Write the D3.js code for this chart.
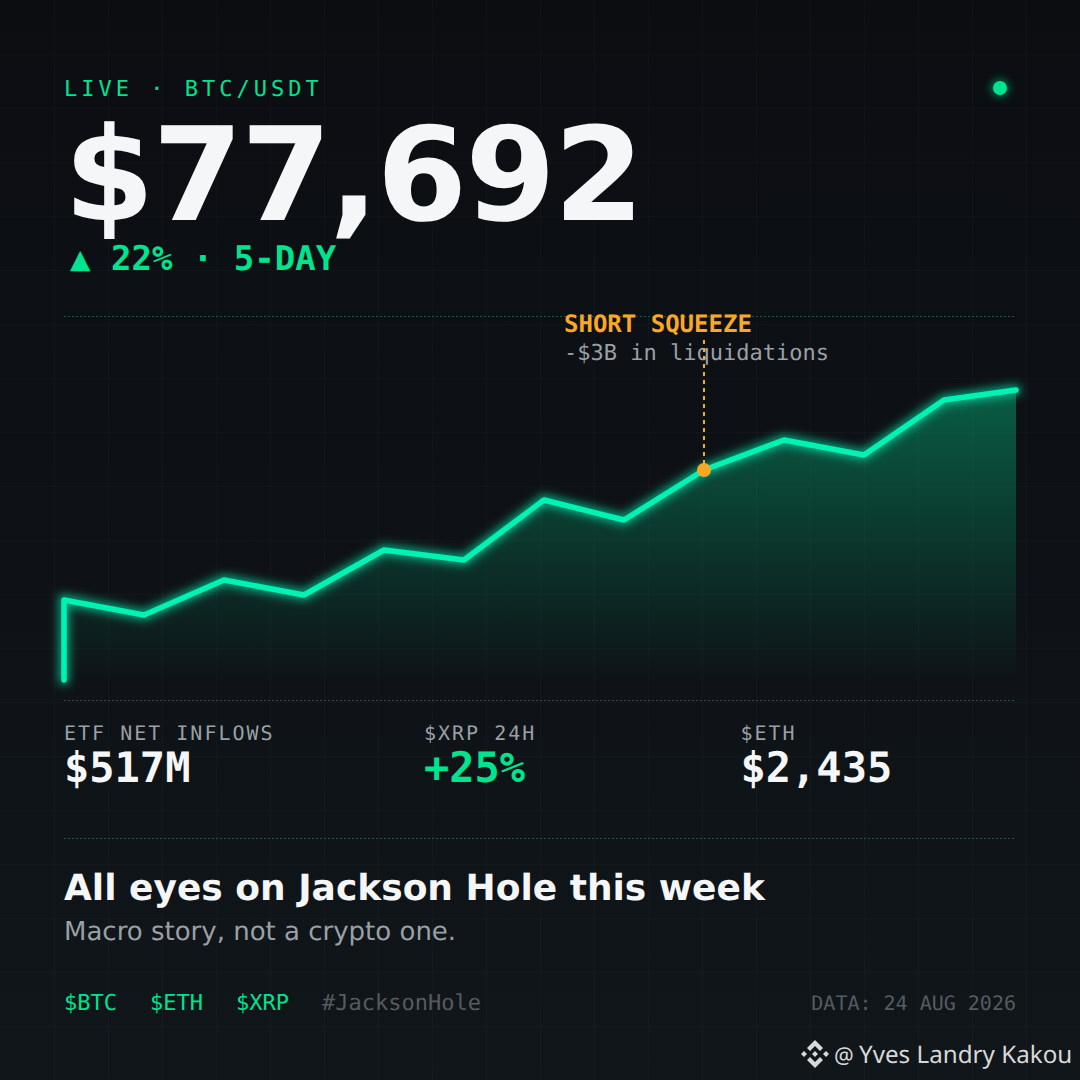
<!DOCTYPE html>
<html>
<head>
<meta charset="utf-8">
<script src="https://d3js.org/d3.v7.min.js"></script>
<style>
html,body{margin:0;padding:0;background:#0a0c10;}
svg{display:block;}
text{text-rendering:geometricPrecision;}
</style>
</head>
<body>
<svg width="1080" height="1080"></svg>
<script>
// chart values
var chartX = [0, 0, 80, 160, 240, 320, 400, 480, 560, 640, 720, 800, 880, 952];
var chartY = [20, 100, 85, 120, 105, 150, 140, 200, 180, 230, 260, 245, 300, 310];
var markerIndex = 9;

var stats = ["ETF NET INFLOWS", "$XRP 24H", "$ETH"];
var statValues = ["$517M", "+25%", "$2,435"];
var tags = ["$BTC", "$ETH", "$XRP", "#JacksonHole"];

function main(){
    var svg = d3.select("svg"),
        defs = svg.append("defs");

    var mono = "'DejaVu Sans Mono', monospace",
        sans = "'DejaVu Sans', sans-serif",
        green = "#00e38f",
        line = "#00f2b4",
        orange = "#f9a825";

    var bg = defs.append("linearGradient").attr("id", "bg").attr("x1", 0).attr("y1", 0).attr("x2", 0).attr("y2", 1);
    bg.append("stop").attr("offset", "0%").attr("stop-color", "#0b0d11");
    bg.append("stop").attr("offset", "100%").attr("stop-color", "#10161a");

    var fade = defs.append("linearGradient").attr("id", "fade").attr("x1", 0).attr("y1", 0).attr("x2", 0).attr("y2", 1);
    fade.append("stop").attr("offset", "0%").attr("stop-color", "#00e69a").attr("stop-opacity", 0.36);
    fade.append("stop").attr("offset", "100%").attr("stop-color", "#00e69a").attr("stop-opacity", 0);

    var glow = defs.append("filter").attr("id", "glow")
        .attr("filterUnits", "userSpaceOnUse")
        .attr("x", 0).attr("y", 300).attr("width", 1080).attr("height", 420);
    glow.append("feGaussianBlur").attr("stdDeviation", 5);

    var dotGlow = defs.append("filter").attr("id", "dotGlow").attr("x", "-100%").attr("y", "-100%").attr("width", "300%").attr("height", "300%");
    dotGlow.append("feGaussianBlur").attr("stdDeviation", 4);

    svg.append("rect").attr("width", 1080).attr("height", 1080).attr("fill", "url(#bg)");

    // faint background grid
    var grid = svg.append("g").attr("stroke", "#ffffff").attr("stroke-opacity", 0.022).attr("stroke-width", 1);
    d3.range(54, 1080, 54).forEach(function(p){
        grid.append("line").attr("x1", p + .5).attr("x2", p + .5).attr("y1", 0).attr("y2", 1080);
        grid.append("line").attr("y1", p + .5).attr("y2", p + .5).attr("x1", 0).attr("x2", 1080);
    });

    function txt(x, y, s, size, fill, family, weight, spacing){
        return svg.append("text")
            .attr("x", x).attr("y", y)
            .attr("font-family", family)
            .attr("font-size", size)
            .attr("font-weight", weight || "normal")
            .attr("letter-spacing", spacing || 0)
            .attr("fill", fill)
            .text(s);
    }

    // header
    txt(64, 96, "LIVE · BTC/USDT", 22, green, mono, "normal", 4);
    txt(64, 220, "$77,692", 130, "#f5f6f8", sans, "bold", -2);
    txt(70, 270, "▲ 22% · 5-DAY", 34, green, mono, "bold");

    svg.append("circle").attr("cx", 1000).attr("cy", 88).attr("r", 9).attr("fill", green).attr("opacity", 0.5).attr("filter", "url(#dotGlow)");
    svg.append("circle").attr("cx", 1000).attr("cy", 88).attr("r", 7).attr("fill", green);

    // dividers
    [316.5, 700.5, 838.5].forEach(function(y){
        svg.append("line").attr("x1", 64).attr("x2", 1016).attr("y1", y).attr("y2", y)
            .attr("stroke", "#2f6a58").attr("stroke-opacity", 0.7).attr("stroke-dasharray", "2 2");
    });

    // chart
    var x = d3.scaleLinear().domain([0, 952]).range([64, 1016]),
        y = d3.scaleLinear().domain([0, 384]).range([700, 316]);

    var pts = chartX.map(function(d, i){ return [d, chartY[i]]; });

    var lineGen = d3.line().x(function(d){ return x(d[0]); }).y(function(d){ return y(d[1]); });
    var areaGen = d3.area().x(function(d){ return x(d[0]); }).y0(y(20)).y1(function(d){ return y(d[1]); });

    svg.append("path").datum(pts).attr("d", areaGen).attr("fill", "url(#fade)");

    svg.append("path").datum(pts).attr("d", lineGen)
        .attr("fill", "none").attr("stroke", line).attr("stroke-width", 10).attr("stroke-opacity", 0.7)
        .attr("stroke-linecap", "round").attr("filter", "url(#glow)");
    svg.append("path").datum(pts).attr("d", lineGen)
        .attr("fill", "none").attr("stroke", line).attr("stroke-width", 5.5)
        .attr("stroke-linecap", "round").attr("stroke-linejoin", "round");

    // annotation
    var mx = x(chartX[markerIndex]), my = y(chartY[markerIndex]);
    txt(564, 332, "SHORT SQUEEZE", 24, orange, mono, "bold");
    txt(564, 360, "-$3B in liquidations", 22, "#9aa0a6", mono);
    svg.append("line").attr("x1", mx).attr("x2", mx).attr("y1", 340).attr("y2", my)
        .attr("stroke", orange).attr("stroke-width", 2).attr("stroke-dasharray", "4 4");
    svg.append("circle").attr("cx", mx).attr("cy", my).attr("r", 7).attr("fill", orange);

    // stats
    var statX = [64, 424, 740.5];
    stats.forEach(function(s, i){
        txt(statX[i], 740, s, 20, "#9aa0a6", mono, "normal", 2);
        txt(statX[i], 782, statValues[i], 42, i == 1 ? green : "#f5f6f8", mono, "bold");
    });

    // headline
    txt(64, 900, "All eyes on Jackson Hole this week", 36, "#f5f6f8", sans, "bold");
    txt(64, 940, "Macro story, not a crypto one.", 26, "#9aa0a6", sans);

    // footer tags
    var tagX = [64, 150, 236, 322];
    tags.forEach(function(s, i){
        txt(tagX[i], 1010, s, 22, i < 3 ? green : "#555b60", mono);
    });
    txt(1016, 1010, "DATA: 24 AUG 2026", 20, "#555b60", mono).attr("text-anchor", "end");

    // watermark with logo
    var logo = svg.append("g").attr("transform", "translate(815,1054)").attr("fill", "#d8d8d8");
    logo.append("path").attr("d", "M0,-14 L8,-6 L5,-3 L0,-8 L-5,-3 L-8,-6 Z");
    logo.append("path").attr("d", "M0,14 L8,6 L5,3 L0,8 L-5,3 L-8,6 Z");
    logo.append("path").attr("d", "M-14,0 L-11,-3 L-8,0 L-11,3 Z");
    logo.append("path").attr("d", "M14,0 L11,-3 L8,0 L11,3 Z");
    logo.append("path").attr("d", "M0,-3 L3,0 L0,3 L-3,0 Z");
    txt(834, 1063, "@", 22, "#d8d8d8", "'Noto Sans', sans-serif");
    txt(859, 1063, "Yves Landry Kakou", 24.2, "#d8d8d8", "'Noto Sans', sans-serif");
}
main();
</script>
</body>
</html>
